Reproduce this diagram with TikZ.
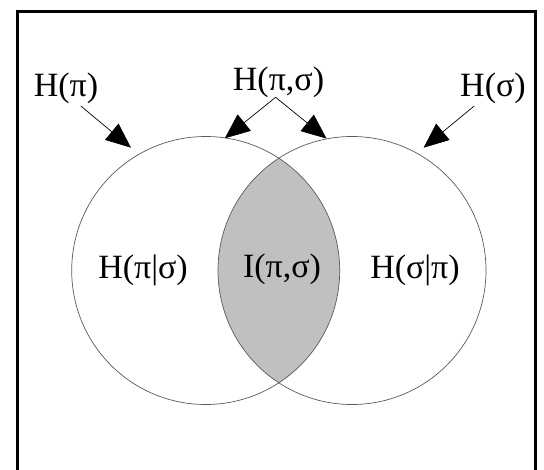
\documentclass[tikz,border=0pt]{standalone}
\usepackage{fontspec}
\setmainfont{Liberation Serif}
\usetikzlibrary{arrows.meta}
\definecolor{lensgray}{RGB}{192,192,192}
\definecolor{circline}{RGB}{90,90,90}
\tikzset{
  lbl/.style={inner sep=0pt, anchor=base, font=\fontsize{34}{40}\selectfont},
  ring/.style={draw=circline, line width=0.7pt},
  pointer/.style={draw=black, line width=0.7pt, -{Triangle[length=25pt,width=21pt]}},
  frame/.style={draw=black, line width=3pt}
}
\begin{document}
\begin{tikzpicture}[x=1pt,y=-1pt]
\useasboundingbox (0,0) rectangle (544,469);
\clip (0,0) rectangle (544,469);
\fill[white] (0,0) rectangle (544,469);
% frame (bottom edge lies outside the picture)
\draw[frame] (17.5,480) -- (17.5,11.5) -- (535.5,11.5) -- (535.5,480);
% circles and lens
\coordinate (cl) at (205.7,270.5);
\coordinate (cr) at (352,270.5);
\begin{scope}
  \clip (cl) circle (134);
  \fill[lensgray] (cr) circle (134);
\end{scope}
\draw[ring] (cl) circle (134);
\draw[ring] (cr) circle (134);
% labels
\node[lbl] (hpi) at (66,96.5) {H(π)};
\node[lbl] (hjoint) at (278.5,90) {H(π,σ)};
\node[lbl] (hsigma) at (493,96.5) {H(σ)};
\node[lbl] (hpis) at (143,278.5) {H(π|σ)};
\node[lbl] (ipis) at (282,277) {I(π,σ)};
\node[lbl] (hsip) at (415,278.5) {H(σ|π)};
% arrow end points
\coordinate (a1s) at (80.8,106);
\coordinate (a1t) at (131,147.7);
\coordinate (a2s) at (275.6,97.3);
\coordinate (a2t) at (224.8,138.3);
\coordinate (a3t) at (326.6,138.6);
\coordinate (a4s) at (474.2,106);
\coordinate (a4t) at (423.6,147.7);
\draw[pointer] (a1s) -- (a1t);
\draw[pointer] (a2s) -- (a2t);
\draw[pointer] (a2s) -- (a3t);
\draw[pointer] (a4s) -- (a4t);
\end{tikzpicture}
\end{document}
